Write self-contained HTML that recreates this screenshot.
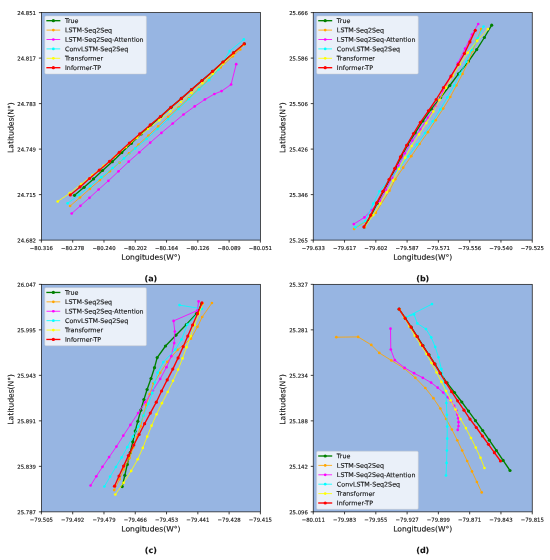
<!DOCTYPE html>
<html lang="en"><head><meta charset="utf-8"><title>Trajectory prediction comparison</title>
<style>html,body{margin:0;padding:0;background:#fff}svg{display:block;filter:blur(0.4px)}text{font-family:"DejaVu Sans","Liberation Sans",sans-serif;fill:#111;stroke:#111;stroke-width:0.12px}</style></head><body>
<svg width="550" height="560" viewBox="0 0 550 560">
<rect width="550" height="560" fill="#ffffff"/>
<g>
<rect x="41.40" y="12.60" width="219.00" height="227.50" fill="#97b5e2"/>
<polyline points="74.5,195.3 84.1,187.3 93.5,178.9 102.5,170.5 112.3,161.7 121.8,152.6 131.4,143.3 141.1,134.0 151.1,125.0 160.9,116.5 171.1,107.3 181.4,98.4 191.6,89.6 202.1,80.6 212.6,71.4 223.1,62.0 233.6,52.9 244.4,43.8" fill="none" stroke="#008000" stroke-width="1.35" stroke-linejoin="round"/>
<g fill="#008000"><circle cx="74.5" cy="195.3" r="1.6"/><circle cx="84.1" cy="187.3" r="1.6"/><circle cx="93.5" cy="178.9" r="1.6"/><circle cx="102.5" cy="170.5" r="1.6"/><circle cx="112.3" cy="161.7" r="1.6"/><circle cx="121.8" cy="152.6" r="1.6"/><circle cx="131.4" cy="143.3" r="1.6"/><circle cx="141.1" cy="134.0" r="1.6"/><circle cx="151.1" cy="125.0" r="1.6"/><circle cx="160.9" cy="116.5" r="1.6"/><circle cx="171.1" cy="107.3" r="1.6"/><circle cx="181.4" cy="98.4" r="1.6"/><circle cx="191.6" cy="89.6" r="1.6"/><circle cx="202.1" cy="80.6" r="1.6"/><circle cx="212.6" cy="71.4" r="1.6"/><circle cx="223.1" cy="62.0" r="1.6"/><circle cx="233.6" cy="52.9" r="1.6"/><circle cx="244.4" cy="43.8" r="1.6"/></g>
<polyline points="70.1,206.0 80.0,197.5 89.9,188.8 99.9,180.1 109.8,171.3 119.5,162.6 129.1,153.3 138.5,144.5 148.4,135.5 158.2,126.4 168.1,116.9 178.5,107.5 188.6,98.4 198.9,88.7 209.5,78.4 220.6,67.5 232.7,56.3 240.3,49.4" fill="none" stroke="#ffa500" stroke-width="0.85" stroke-linejoin="round"/>
<g fill="#ffa500"><circle cx="70.1" cy="206.0" r="1.35"/><circle cx="80.0" cy="197.5" r="1.35"/><circle cx="89.9" cy="188.8" r="1.35"/><circle cx="99.9" cy="180.1" r="1.35"/><circle cx="109.8" cy="171.3" r="1.35"/><circle cx="119.5" cy="162.6" r="1.35"/><circle cx="129.1" cy="153.3" r="1.35"/><circle cx="138.5" cy="144.5" r="1.35"/><circle cx="148.4" cy="135.5" r="1.35"/><circle cx="158.2" cy="126.4" r="1.35"/><circle cx="168.1" cy="116.9" r="1.35"/><circle cx="178.5" cy="107.5" r="1.35"/><circle cx="188.6" cy="98.4" r="1.35"/><circle cx="198.9" cy="88.7" r="1.35"/><circle cx="209.5" cy="78.4" r="1.35"/><circle cx="220.6" cy="67.5" r="1.35"/><circle cx="232.7" cy="56.3" r="1.35"/><circle cx="240.3" cy="49.4" r="1.35"/></g>
<polyline points="71.7,213.5 80.4,205.8 89.5,197.8 98.6,189.5 108.4,180.8 118.5,171.3 128.7,161.7 139.3,152.3 150.2,142.7 161.4,132.9 172.7,123.5 183.5,114.5 194.7,106.4 204.9,99.5 214.4,94.0 221.6,91.1 231.1,84.5 236.2,64.2" fill="none" stroke="#ff00ff" stroke-width="0.85" stroke-linejoin="round"/>
<g fill="#ff00ff"><circle cx="71.7" cy="213.5" r="1.35"/><circle cx="80.4" cy="205.8" r="1.35"/><circle cx="89.5" cy="197.8" r="1.35"/><circle cx="98.6" cy="189.5" r="1.35"/><circle cx="108.4" cy="180.8" r="1.35"/><circle cx="118.5" cy="171.3" r="1.35"/><circle cx="128.7" cy="161.7" r="1.35"/><circle cx="139.3" cy="152.3" r="1.35"/><circle cx="150.2" cy="142.7" r="1.35"/><circle cx="161.4" cy="132.9" r="1.35"/><circle cx="172.7" cy="123.5" r="1.35"/><circle cx="183.5" cy="114.5" r="1.35"/><circle cx="194.7" cy="106.4" r="1.35"/><circle cx="204.9" cy="99.5" r="1.35"/><circle cx="214.4" cy="94.0" r="1.35"/><circle cx="221.6" cy="91.1" r="1.35"/><circle cx="231.1" cy="84.5" r="1.35"/><circle cx="236.2" cy="64.2" r="1.35"/></g>
<polyline points="67.6,203.3 79.0,194.9 90.2,186.2 101.4,177.2 112.7,168.0 124.0,158.4 135.2,148.6 146.5,139.0 157.5,129.0 168.1,119.1 178.5,108.9 188.9,99.1 199.1,89.3 209.0,80.2 218.5,69.5 229.7,51.1 243.8,39.4" fill="none" stroke="#00ffff" stroke-width="0.85" stroke-linejoin="round"/>
<g fill="#00ffff"><circle cx="67.6" cy="203.3" r="1.35"/><circle cx="79.0" cy="194.9" r="1.35"/><circle cx="90.2" cy="186.2" r="1.35"/><circle cx="101.4" cy="177.2" r="1.35"/><circle cx="112.7" cy="168.0" r="1.35"/><circle cx="124.0" cy="158.4" r="1.35"/><circle cx="135.2" cy="148.6" r="1.35"/><circle cx="146.5" cy="139.0" r="1.35"/><circle cx="157.5" cy="129.0" r="1.35"/><circle cx="168.1" cy="119.1" r="1.35"/><circle cx="178.5" cy="108.9" r="1.35"/><circle cx="188.9" cy="99.1" r="1.35"/><circle cx="199.1" cy="89.3" r="1.35"/><circle cx="209.0" cy="80.2" r="1.35"/><circle cx="218.5" cy="69.5" r="1.35"/><circle cx="229.7" cy="51.1" r="1.35"/><circle cx="243.8" cy="39.4" r="1.35"/></g>
<polyline points="57.7,201.5 69.8,193.2 81.2,184.0 92.5,175.0 103.7,165.8 114.9,156.5 126.0,147.1 137.1,137.7 148.0,129.0 159.3,120.3 170.3,111.5 180.9,102.0 191.5,92.8 202.3,83.1 212.8,73.6 223.2,63.6 233.5,54.2 243.6,45.0" fill="none" stroke="#ffff00" stroke-width="0.85" stroke-linejoin="round"/>
<g fill="#ffff00"><circle cx="57.7" cy="201.5" r="1.35"/><circle cx="69.8" cy="193.2" r="1.35"/><circle cx="81.2" cy="184.0" r="1.35"/><circle cx="92.5" cy="175.0" r="1.35"/><circle cx="103.7" cy="165.8" r="1.35"/><circle cx="114.9" cy="156.5" r="1.35"/><circle cx="126.0" cy="147.1" r="1.35"/><circle cx="137.1" cy="137.7" r="1.35"/><circle cx="148.0" cy="129.0" r="1.35"/><circle cx="159.3" cy="120.3" r="1.35"/><circle cx="170.3" cy="111.5" r="1.35"/><circle cx="180.9" cy="102.0" r="1.35"/><circle cx="191.5" cy="92.8" r="1.35"/><circle cx="202.3" cy="83.1" r="1.35"/><circle cx="212.8" cy="73.6" r="1.35"/><circle cx="223.2" cy="63.6" r="1.35"/><circle cx="233.5" cy="54.2" r="1.35"/><circle cx="243.6" cy="45.0" r="1.35"/></g>
<polyline points="70.3,194.9 80.0,186.9 89.5,178.5 99.3,170.2 109.5,161.4 119.3,152.3 129.4,143.1 139.7,133.9 150.2,124.9 160.4,116.5 170.8,107.3 181.3,98.4 191.5,89.6 202.0,80.6 212.5,71.4 223.0,62.0 233.5,52.9 244.3,43.8" fill="none" stroke="#ff0000" stroke-width="1.35" stroke-linejoin="round"/>
<g fill="#ff0000"><circle cx="70.3" cy="194.9" r="1.6"/><circle cx="80.0" cy="186.9" r="1.6"/><circle cx="89.5" cy="178.5" r="1.6"/><circle cx="99.3" cy="170.2" r="1.6"/><circle cx="109.5" cy="161.4" r="1.6"/><circle cx="119.3" cy="152.3" r="1.6"/><circle cx="129.4" cy="143.1" r="1.6"/><circle cx="139.7" cy="133.9" r="1.6"/><circle cx="150.2" cy="124.9" r="1.6"/><circle cx="160.4" cy="116.5" r="1.6"/><circle cx="170.8" cy="107.3" r="1.6"/><circle cx="181.3" cy="98.4" r="1.6"/><circle cx="191.5" cy="89.6" r="1.6"/><circle cx="202.0" cy="80.6" r="1.6"/><circle cx="212.5" cy="71.4" r="1.6"/><circle cx="223.0" cy="62.0" r="1.6"/><circle cx="233.5" cy="52.9" r="1.6"/><circle cx="244.3" cy="43.8" r="1.6"/></g>
<rect x="44.80" y="15.90" width="101.6" height="58.1" rx="1.2" fill="#ffffff" fill-opacity="0.8" stroke="#cccccc" stroke-opacity="0.8" stroke-width="0.6"/>
<line x1="47.00" y1="20.70" x2="59.70" y2="20.70" stroke="#008000" stroke-width="1.35" stroke-linecap="square"/><circle cx="53.35" cy="20.70" r="1.6" fill="#008000"/>
<text x="65.00" y="22.95" font-size="6.35" transform="rotate(0.1 65.00 22.95)">True</text>
<line x1="47.00" y1="30.10" x2="59.70" y2="30.10" stroke="#ffa500" stroke-width="0.85" stroke-linecap="square"/><circle cx="53.35" cy="30.10" r="1.35" fill="#ffa500"/>
<text x="65.00" y="32.35" font-size="6.35" transform="rotate(0.1 65.00 32.35)">LSTM-Seq2Seq</text>
<line x1="47.00" y1="39.50" x2="59.70" y2="39.50" stroke="#ff00ff" stroke-width="0.85" stroke-linecap="square"/><circle cx="53.35" cy="39.50" r="1.35" fill="#ff00ff"/>
<text x="65.00" y="41.75" font-size="6.35" transform="rotate(0.1 65.00 41.75)">LSTM-Seq2Seq-Attention</text>
<line x1="47.00" y1="48.90" x2="59.70" y2="48.90" stroke="#00ffff" stroke-width="0.85" stroke-linecap="square"/><circle cx="53.35" cy="48.90" r="1.35" fill="#00ffff"/>
<text x="65.00" y="51.15" font-size="6.35" transform="rotate(0.1 65.00 51.15)">ConvLSTM-Seq2Seq</text>
<line x1="47.00" y1="58.30" x2="59.70" y2="58.30" stroke="#ffff00" stroke-width="0.85" stroke-linecap="square"/><circle cx="53.35" cy="58.30" r="1.35" fill="#ffff00"/>
<text x="65.00" y="60.55" font-size="6.35" transform="rotate(0.1 65.00 60.55)">Transformer</text>
<line x1="47.00" y1="67.70" x2="59.70" y2="67.70" stroke="#ff0000" stroke-width="1.35" stroke-linecap="square"/><circle cx="53.35" cy="67.70" r="1.6" fill="#ff0000"/>
<text x="65.00" y="69.95" font-size="6.35" transform="rotate(0.1 65.00 69.95)">Informer-TP</text>
<rect x="41.40" y="12.60" width="219.00" height="227.50" fill="none" stroke="#1a1a1a" stroke-width="0.75"/>
<path d="M41.40,240.10v2.5M72.69,240.10v2.5M103.97,240.10v2.5M135.26,240.10v2.5M166.54,240.10v2.5M197.83,240.10v2.5M229.11,240.10v2.5M260.40,240.10v2.5M41.40,12.60h-2.5M41.40,58.10h-2.5M41.40,103.60h-2.5M41.40,149.10h-2.5M41.40,194.60h-2.5M41.40,240.10h-2.5" stroke="#111111" stroke-width="0.8" fill="none"/>
<text x="41.40" y="250.00" font-size="5.35" text-anchor="middle" transform="rotate(0.1 41.40 250.00)">−80.316</text>
<text x="72.69" y="250.00" font-size="5.35" text-anchor="middle" transform="rotate(0.1 72.69 250.00)">−80.278</text>
<text x="103.97" y="250.00" font-size="5.35" text-anchor="middle" transform="rotate(0.1 103.97 250.00)">−80.240</text>
<text x="135.26" y="250.00" font-size="5.35" text-anchor="middle" transform="rotate(0.1 135.26 250.00)">−80.202</text>
<text x="166.54" y="250.00" font-size="5.35" text-anchor="middle" transform="rotate(0.1 166.54 250.00)">−80.164</text>
<text x="197.83" y="250.00" font-size="5.35" text-anchor="middle" transform="rotate(0.1 197.83 250.00)">−80.126</text>
<text x="229.11" y="250.00" font-size="5.35" text-anchor="middle" transform="rotate(0.1 229.11 250.00)">−80.089</text>
<text x="260.40" y="250.00" font-size="5.35" text-anchor="middle" transform="rotate(0.1 260.40 250.00)">−80.051</text>
<text x="36.00" y="15.00" font-size="5.35" text-anchor="end" transform="rotate(0.1 36.00 15.00)">24.851</text>
<text x="36.00" y="60.50" font-size="5.35" text-anchor="end" transform="rotate(0.1 36.00 60.50)">24.817</text>
<text x="36.00" y="106.00" font-size="5.35" text-anchor="end" transform="rotate(0.1 36.00 106.00)">24.783</text>
<text x="36.00" y="151.50" font-size="5.35" text-anchor="end" transform="rotate(0.1 36.00 151.50)">24.749</text>
<text x="36.00" y="197.00" font-size="5.35" text-anchor="end" transform="rotate(0.1 36.00 197.00)">24.715</text>
<text x="36.00" y="242.50" font-size="5.35" text-anchor="end" transform="rotate(0.1 36.00 242.50)">24.682</text>
<text x="150.90" y="259.80" font-size="7.62" text-anchor="middle" transform="rotate(0.1 150.90 259.80)">Longitudes(W°)</text>
<text transform="translate(13.40,127.55) rotate(-89.9)" font-size="7.62" text-anchor="middle">Latitudes(N°)</text>
<text x="150.90" y="281.30" font-size="8.0" font-weight="bold" text-anchor="middle" transform="rotate(0.1 150.90 281.30)">(a)</text>
</g>
<g>
<rect x="313.25" y="12.60" width="219.00" height="227.50" fill="#97b5e2"/>
<polyline points="364.3,227.0 371.2,215.2 377.2,203.2 383.4,191.5 389.6,179.7 395.5,168.3 401.3,156.8 407.6,145.0 415.2,132.8 422.9,121.0 431.4,108.9 440.6,97.5 449.8,85.5 458.5,73.9 468.4,61.5 476.7,49.6 484.4,37.5 491.7,25.2" fill="none" stroke="#008000" stroke-width="1.35" stroke-linejoin="round"/>
<g fill="#008000"><circle cx="364.3" cy="227.0" r="1.6"/><circle cx="371.2" cy="215.2" r="1.6"/><circle cx="377.2" cy="203.2" r="1.6"/><circle cx="383.4" cy="191.5" r="1.6"/><circle cx="389.6" cy="179.7" r="1.6"/><circle cx="395.5" cy="168.3" r="1.6"/><circle cx="401.3" cy="156.8" r="1.6"/><circle cx="407.6" cy="145.0" r="1.6"/><circle cx="415.2" cy="132.8" r="1.6"/><circle cx="422.9" cy="121.0" r="1.6"/><circle cx="431.4" cy="108.9" r="1.6"/><circle cx="440.6" cy="97.5" r="1.6"/><circle cx="449.8" cy="85.5" r="1.6"/><circle cx="458.5" cy="73.9" r="1.6"/><circle cx="468.4" cy="61.5" r="1.6"/><circle cx="476.7" cy="49.6" r="1.6"/><circle cx="484.4" cy="37.5" r="1.6"/><circle cx="491.7" cy="25.2" r="1.6"/></g>
<polyline points="354.1,228.9 366.0,221.4 375.8,212.7 389.5,190.7 395.3,179.2 403.2,167.7 411.3,156.2 419.6,144.0 427.9,132.2 435.7,120.2 443.2,108.6 450.3,97.0 456.4,85.5 462.5,73.9 468.0,62.3 472.4,51.2 476.8,40.1 481.1,29.1" fill="none" stroke="#ffa500" stroke-width="0.85" stroke-linejoin="round"/>
<g fill="#ffa500"><circle cx="354.1" cy="228.9" r="1.35"/><circle cx="366.0" cy="221.4" r="1.35"/><circle cx="375.8" cy="212.7" r="1.35"/><circle cx="389.5" cy="190.7" r="1.35"/><circle cx="395.3" cy="179.2" r="1.35"/><circle cx="403.2" cy="167.7" r="1.35"/><circle cx="411.3" cy="156.2" r="1.35"/><circle cx="419.6" cy="144.0" r="1.35"/><circle cx="427.9" cy="132.2" r="1.35"/><circle cx="435.7" cy="120.2" r="1.35"/><circle cx="443.2" cy="108.6" r="1.35"/><circle cx="450.3" cy="97.0" r="1.35"/><circle cx="456.4" cy="85.5" r="1.35"/><circle cx="462.5" cy="73.9" r="1.35"/><circle cx="468.0" cy="62.3" r="1.35"/><circle cx="472.4" cy="51.2" r="1.35"/><circle cx="476.8" cy="40.1" r="1.35"/><circle cx="481.1" cy="29.1" r="1.35"/></g>
<polyline points="353.8,224.1 364.4,217.4 371.5,210.0 380.0,200.8 385.8,189.8 392.1,177.6 398.4,165.5 404.7,153.3 412.3,140.5 420.3,129.4 427.9,117.7 435.9,105.9 443.0,91.6 450.6,77.3 457.9,63.0 465.1,48.7 472.0,34.5 478.2,24.0" fill="none" stroke="#ff00ff" stroke-width="0.85" stroke-linejoin="round"/>
<g fill="#ff00ff"><circle cx="353.8" cy="224.1" r="1.35"/><circle cx="364.4" cy="217.4" r="1.35"/><circle cx="371.5" cy="210.0" r="1.35"/><circle cx="380.0" cy="200.8" r="1.35"/><circle cx="385.8" cy="189.8" r="1.35"/><circle cx="392.1" cy="177.6" r="1.35"/><circle cx="398.4" cy="165.5" r="1.35"/><circle cx="404.7" cy="153.3" r="1.35"/><circle cx="412.3" cy="140.5" r="1.35"/><circle cx="420.3" cy="129.4" r="1.35"/><circle cx="427.9" cy="117.7" r="1.35"/><circle cx="435.9" cy="105.9" r="1.35"/><circle cx="443.0" cy="91.6" r="1.35"/><circle cx="450.6" cy="77.3" r="1.35"/><circle cx="457.9" cy="63.0" r="1.35"/><circle cx="465.1" cy="48.7" r="1.35"/><circle cx="472.0" cy="34.5" r="1.35"/><circle cx="478.2" cy="24.0" r="1.35"/></g>
<polyline points="355.2,227.3 365.5,221.0 373.3,203.7 379.5,191.3 389.0,179.8 398.9,168.5 408.0,156.5 417.1,144.5 425.0,133.1 432.8,121.3 440.3,109.4 447.3,97.3 454.2,85.5 460.0,73.9 466.3,61.8 471.6,50.2 477.7,38.3 483.6,26.6" fill="none" stroke="#00ffff" stroke-width="0.85" stroke-linejoin="round"/>
<g fill="#00ffff"><circle cx="355.2" cy="227.3" r="1.35"/><circle cx="365.5" cy="221.0" r="1.35"/><circle cx="373.3" cy="203.7" r="1.35"/><circle cx="379.5" cy="191.3" r="1.35"/><circle cx="389.0" cy="179.8" r="1.35"/><circle cx="398.9" cy="168.5" r="1.35"/><circle cx="408.0" cy="156.5" r="1.35"/><circle cx="417.1" cy="144.5" r="1.35"/><circle cx="425.0" cy="133.1" r="1.35"/><circle cx="432.8" cy="121.3" r="1.35"/><circle cx="440.3" cy="109.4" r="1.35"/><circle cx="447.3" cy="97.3" r="1.35"/><circle cx="454.2" cy="85.5" r="1.35"/><circle cx="460.0" cy="73.9" r="1.35"/><circle cx="466.3" cy="61.8" r="1.35"/><circle cx="471.6" cy="50.2" r="1.35"/><circle cx="477.7" cy="38.3" r="1.35"/><circle cx="483.6" cy="26.6" r="1.35"/></g>
<polyline points="364.8,227.0 373.4,215.1 380.2,203.6 386.7,192.4 393.1,180.7 398.9,169.0 405.2,157.6 411.7,146.0 419.0,134.4 426.3,123.1 433.3,111.5 439.5,100.0 445.9,87.7 452.5,76.0 459.8,64.5 467.7,52.8 477.2,40.9 487.9,29.1" fill="none" stroke="#ffff00" stroke-width="0.85" stroke-linejoin="round"/>
<g fill="#ffff00"><circle cx="364.8" cy="227.0" r="1.35"/><circle cx="373.4" cy="215.1" r="1.35"/><circle cx="380.2" cy="203.6" r="1.35"/><circle cx="386.7" cy="192.4" r="1.35"/><circle cx="393.1" cy="180.7" r="1.35"/><circle cx="398.9" cy="169.0" r="1.35"/><circle cx="405.2" cy="157.6" r="1.35"/><circle cx="411.7" cy="146.0" r="1.35"/><circle cx="419.0" cy="134.4" r="1.35"/><circle cx="426.3" cy="123.1" r="1.35"/><circle cx="433.3" cy="111.5" r="1.35"/><circle cx="439.5" cy="100.0" r="1.35"/><circle cx="445.9" cy="87.7" r="1.35"/><circle cx="452.5" cy="76.0" r="1.35"/><circle cx="459.8" cy="64.5" r="1.35"/><circle cx="467.7" cy="52.8" r="1.35"/><circle cx="477.2" cy="40.9" r="1.35"/><circle cx="487.9" cy="29.1" r="1.35"/></g>
<polyline points="364.0,226.9 370.8,215.0 376.7,202.9 382.9,191.3 389.0,179.6 394.8,168.3 400.4,156.9 406.6,145.3 413.5,133.6 420.4,122.3 428.4,110.8 436.2,99.5 443.5,87.6 451.0,76.1 458.1,64.5 464.4,53.5 469.9,41.9 475.3,30.3" fill="none" stroke="#ff0000" stroke-width="1.35" stroke-linejoin="round"/>
<g fill="#ff0000"><circle cx="364.0" cy="226.9" r="1.6"/><circle cx="370.8" cy="215.0" r="1.6"/><circle cx="376.7" cy="202.9" r="1.6"/><circle cx="382.9" cy="191.3" r="1.6"/><circle cx="389.0" cy="179.6" r="1.6"/><circle cx="394.8" cy="168.3" r="1.6"/><circle cx="400.4" cy="156.9" r="1.6"/><circle cx="406.6" cy="145.3" r="1.6"/><circle cx="413.5" cy="133.6" r="1.6"/><circle cx="420.4" cy="122.3" r="1.6"/><circle cx="428.4" cy="110.8" r="1.6"/><circle cx="436.2" cy="99.5" r="1.6"/><circle cx="443.5" cy="87.6" r="1.6"/><circle cx="451.0" cy="76.1" r="1.6"/><circle cx="458.1" cy="64.5" r="1.6"/><circle cx="464.4" cy="53.5" r="1.6"/><circle cx="469.9" cy="41.9" r="1.6"/><circle cx="475.3" cy="30.3" r="1.6"/></g>
<rect x="316.65" y="15.90" width="101.6" height="58.1" rx="1.2" fill="#ffffff" fill-opacity="0.8" stroke="#cccccc" stroke-opacity="0.8" stroke-width="0.6"/>
<line x1="318.85" y1="20.70" x2="331.55" y2="20.70" stroke="#008000" stroke-width="1.35" stroke-linecap="square"/><circle cx="325.20" cy="20.70" r="1.6" fill="#008000"/>
<text x="336.85" y="22.95" font-size="6.35" transform="rotate(0.1 336.85 22.95)">True</text>
<line x1="318.85" y1="30.10" x2="331.55" y2="30.10" stroke="#ffa500" stroke-width="0.85" stroke-linecap="square"/><circle cx="325.20" cy="30.10" r="1.35" fill="#ffa500"/>
<text x="336.85" y="32.35" font-size="6.35" transform="rotate(0.1 336.85 32.35)">LSTM-Seq2Seq</text>
<line x1="318.85" y1="39.50" x2="331.55" y2="39.50" stroke="#ff00ff" stroke-width="0.85" stroke-linecap="square"/><circle cx="325.20" cy="39.50" r="1.35" fill="#ff00ff"/>
<text x="336.85" y="41.75" font-size="6.35" transform="rotate(0.1 336.85 41.75)">LSTM-Seq2Seq-Attention</text>
<line x1="318.85" y1="48.90" x2="331.55" y2="48.90" stroke="#00ffff" stroke-width="0.85" stroke-linecap="square"/><circle cx="325.20" cy="48.90" r="1.35" fill="#00ffff"/>
<text x="336.85" y="51.15" font-size="6.35" transform="rotate(0.1 336.85 51.15)">ConvLSTM-Seq2Seq</text>
<line x1="318.85" y1="58.30" x2="331.55" y2="58.30" stroke="#ffff00" stroke-width="0.85" stroke-linecap="square"/><circle cx="325.20" cy="58.30" r="1.35" fill="#ffff00"/>
<text x="336.85" y="60.55" font-size="6.35" transform="rotate(0.1 336.85 60.55)">Transformer</text>
<line x1="318.85" y1="67.70" x2="331.55" y2="67.70" stroke="#ff0000" stroke-width="1.35" stroke-linecap="square"/><circle cx="325.20" cy="67.70" r="1.6" fill="#ff0000"/>
<text x="336.85" y="69.95" font-size="6.35" transform="rotate(0.1 336.85 69.95)">Informer-TP</text>
<rect x="313.25" y="12.60" width="219.00" height="227.50" fill="none" stroke="#1a1a1a" stroke-width="0.75"/>
<path d="M313.25,240.10v2.5M344.54,240.10v2.5M375.82,240.10v2.5M407.11,240.10v2.5M438.39,240.10v2.5M469.68,240.10v2.5M500.96,240.10v2.5M532.25,240.10v2.5M313.25,12.60h-2.5M313.25,58.10h-2.5M313.25,103.60h-2.5M313.25,149.10h-2.5M313.25,194.60h-2.5M313.25,240.10h-2.5" stroke="#111111" stroke-width="0.8" fill="none"/>
<text x="313.25" y="250.00" font-size="5.35" text-anchor="middle" transform="rotate(0.1 313.25 250.00)">−79.633</text>
<text x="344.54" y="250.00" font-size="5.35" text-anchor="middle" transform="rotate(0.1 344.54 250.00)">−79.617</text>
<text x="375.82" y="250.00" font-size="5.35" text-anchor="middle" transform="rotate(0.1 375.82 250.00)">−79.602</text>
<text x="407.11" y="250.00" font-size="5.35" text-anchor="middle" transform="rotate(0.1 407.11 250.00)">−79.587</text>
<text x="438.39" y="250.00" font-size="5.35" text-anchor="middle" transform="rotate(0.1 438.39 250.00)">−79.571</text>
<text x="469.68" y="250.00" font-size="5.35" text-anchor="middle" transform="rotate(0.1 469.68 250.00)">−79.556</text>
<text x="500.96" y="250.00" font-size="5.35" text-anchor="middle" transform="rotate(0.1 500.96 250.00)">−79.540</text>
<text x="532.25" y="250.00" font-size="5.35" text-anchor="middle" transform="rotate(0.1 532.25 250.00)">−79.525</text>
<text x="307.85" y="15.00" font-size="5.35" text-anchor="end" transform="rotate(0.1 307.85 15.00)">25.666</text>
<text x="307.85" y="60.50" font-size="5.35" text-anchor="end" transform="rotate(0.1 307.85 60.50)">25.586</text>
<text x="307.85" y="106.00" font-size="5.35" text-anchor="end" transform="rotate(0.1 307.85 106.00)">25.506</text>
<text x="307.85" y="151.50" font-size="5.35" text-anchor="end" transform="rotate(0.1 307.85 151.50)">25.426</text>
<text x="307.85" y="197.00" font-size="5.35" text-anchor="end" transform="rotate(0.1 307.85 197.00)">25.346</text>
<text x="307.85" y="242.50" font-size="5.35" text-anchor="end" transform="rotate(0.1 307.85 242.50)">25.265</text>
<text x="422.75" y="259.80" font-size="7.62" text-anchor="middle" transform="rotate(0.1 422.75 259.80)">Longitudes(W°)</text>
<text transform="translate(285.25,127.55) rotate(-89.9)" font-size="7.62" text-anchor="middle">Latitudes(N°)</text>
<text x="422.75" y="281.30" font-size="8.0" font-weight="bold" text-anchor="middle" transform="rotate(0.1 422.75 281.30)">(b)</text>
</g>
<g>
<rect x="41.40" y="284.35" width="219.00" height="227.50" fill="#97b5e2"/>
<polyline points="201.6,303.8 196.5,313.6 186.4,324.5 175.9,335.2 165.5,346.0 157.2,357.6 154.5,367.7 151.0,378.5 147.1,389.5 143.9,399.6 140.8,410.2 137.8,421.3 135.3,430.9 132.8,441.8 130.2,452.7 127.3,464.4 124.8,475.3 122.2,486.6" fill="none" stroke="#008000" stroke-width="1.35" stroke-linejoin="round"/>
<g fill="#008000"><circle cx="201.6" cy="303.8" r="1.6"/><circle cx="196.5" cy="313.6" r="1.6"/><circle cx="186.4" cy="324.5" r="1.6"/><circle cx="175.9" cy="335.2" r="1.6"/><circle cx="165.5" cy="346.0" r="1.6"/><circle cx="157.2" cy="357.6" r="1.6"/><circle cx="154.5" cy="367.7" r="1.6"/><circle cx="151.0" cy="378.5" r="1.6"/><circle cx="147.1" cy="389.5" r="1.6"/><circle cx="143.9" cy="399.6" r="1.6"/><circle cx="140.8" cy="410.2" r="1.6"/><circle cx="137.8" cy="421.3" r="1.6"/><circle cx="135.3" cy="430.9" r="1.6"/><circle cx="132.8" cy="441.8" r="1.6"/><circle cx="130.2" cy="452.7" r="1.6"/><circle cx="127.3" cy="464.4" r="1.6"/><circle cx="124.8" cy="475.3" r="1.6"/><circle cx="122.2" cy="486.6" r="1.6"/></g>
<polyline points="211.9,303.0 202.2,317.0 197.5,326.8 190.9,338.7 177.5,349.9 167.4,361.8 160.2,372.8 153.6,383.3 149.7,394.2 146.1,405.1 143.2,415.8 140.6,426.3 137.0,437.0 133.2,447.6 129.5,458.1 123.6,469.5 119.6,479.3 114.2,490.1" fill="none" stroke="#ffa500" stroke-width="0.85" stroke-linejoin="round"/>
<g fill="#ffa500"><circle cx="211.9" cy="303.0" r="1.35"/><circle cx="202.2" cy="317.0" r="1.35"/><circle cx="197.5" cy="326.8" r="1.35"/><circle cx="190.9" cy="338.7" r="1.35"/><circle cx="177.5" cy="349.9" r="1.35"/><circle cx="167.4" cy="361.8" r="1.35"/><circle cx="160.2" cy="372.8" r="1.35"/><circle cx="153.6" cy="383.3" r="1.35"/><circle cx="149.7" cy="394.2" r="1.35"/><circle cx="146.1" cy="405.1" r="1.35"/><circle cx="143.2" cy="415.8" r="1.35"/><circle cx="140.6" cy="426.3" r="1.35"/><circle cx="137.0" cy="437.0" r="1.35"/><circle cx="133.2" cy="447.6" r="1.35"/><circle cx="129.5" cy="458.1" r="1.35"/><circle cx="123.6" cy="469.5" r="1.35"/><circle cx="119.6" cy="479.3" r="1.35"/><circle cx="114.2" cy="490.1" r="1.35"/></g>
<polyline points="198.6,301.4 197.4,310.5 173.6,320.9 174.8,331.5 174.2,343.1 171.3,356.2 166.5,367.2 160.2,378.9 152.9,390.5 145.3,402.2 138.1,413.1 130.4,424.9 123.3,435.7 116.4,446.6 109.1,457.1 102.5,466.8 96.3,476.3 90.6,485.5" fill="none" stroke="#ff00ff" stroke-width="0.85" stroke-linejoin="round"/>
<g fill="#ff00ff"><circle cx="198.6" cy="301.4" r="1.35"/><circle cx="197.4" cy="310.5" r="1.35"/><circle cx="173.6" cy="320.9" r="1.35"/><circle cx="174.8" cy="331.5" r="1.35"/><circle cx="174.2" cy="343.1" r="1.35"/><circle cx="171.3" cy="356.2" r="1.35"/><circle cx="166.5" cy="367.2" r="1.35"/><circle cx="160.2" cy="378.9" r="1.35"/><circle cx="152.9" cy="390.5" r="1.35"/><circle cx="145.3" cy="402.2" r="1.35"/><circle cx="138.1" cy="413.1" r="1.35"/><circle cx="130.4" cy="424.9" r="1.35"/><circle cx="123.3" cy="435.7" r="1.35"/><circle cx="116.4" cy="446.6" r="1.35"/><circle cx="109.1" cy="457.1" r="1.35"/><circle cx="102.5" cy="466.8" r="1.35"/><circle cx="96.3" cy="476.3" r="1.35"/><circle cx="90.6" cy="485.5" r="1.35"/></g>
<polyline points="179.5,305.1 201.9,308.8 187.3,324.7 181.5,339.6 175.3,349.6 163.4,362.1 157.6,372.7 154.8,382.5 152.2,393.2 148.3,403.9 143.5,415.6 138.3,426.7 132.8,436.7 127.3,447.2 121.7,457.4 115.9,467.0 110.1,476.7 104.4,486.5" fill="none" stroke="#00ffff" stroke-width="0.85" stroke-linejoin="round"/>
<g fill="#00ffff"><circle cx="179.5" cy="305.1" r="1.35"/><circle cx="201.9" cy="308.8" r="1.35"/><circle cx="187.3" cy="324.7" r="1.35"/><circle cx="181.5" cy="339.6" r="1.35"/><circle cx="175.3" cy="349.6" r="1.35"/><circle cx="163.4" cy="362.1" r="1.35"/><circle cx="157.6" cy="372.7" r="1.35"/><circle cx="154.8" cy="382.5" r="1.35"/><circle cx="152.2" cy="393.2" r="1.35"/><circle cx="148.3" cy="403.9" r="1.35"/><circle cx="143.5" cy="415.6" r="1.35"/><circle cx="138.3" cy="426.7" r="1.35"/><circle cx="132.8" cy="436.7" r="1.35"/><circle cx="127.3" cy="447.2" r="1.35"/><circle cx="121.7" cy="457.4" r="1.35"/><circle cx="115.9" cy="467.0" r="1.35"/><circle cx="110.1" cy="476.7" r="1.35"/><circle cx="104.4" cy="486.5" r="1.35"/></g>
<polyline points="202.6,303.6 199.0,313.6 194.5,325.0 190.6,336.1 186.5,347.2 182.5,358.4 178.1,369.6 173.0,380.8 167.7,392.0 161.9,403.2 156.5,414.3 151.6,425.7 147.2,436.6 142.8,447.9 137.7,459.3 131.2,470.9 123.6,482.8 115.3,494.5" fill="none" stroke="#ffff00" stroke-width="0.85" stroke-linejoin="round"/>
<g fill="#ffff00"><circle cx="202.6" cy="303.6" r="1.35"/><circle cx="199.0" cy="313.6" r="1.35"/><circle cx="194.5" cy="325.0" r="1.35"/><circle cx="190.6" cy="336.1" r="1.35"/><circle cx="186.5" cy="347.2" r="1.35"/><circle cx="182.5" cy="358.4" r="1.35"/><circle cx="178.1" cy="369.6" r="1.35"/><circle cx="173.0" cy="380.8" r="1.35"/><circle cx="167.7" cy="392.0" r="1.35"/><circle cx="161.9" cy="403.2" r="1.35"/><circle cx="156.5" cy="414.3" r="1.35"/><circle cx="151.6" cy="425.7" r="1.35"/><circle cx="147.2" cy="436.6" r="1.35"/><circle cx="142.8" cy="447.9" r="1.35"/><circle cx="137.7" cy="459.3" r="1.35"/><circle cx="131.2" cy="470.9" r="1.35"/><circle cx="123.6" cy="482.8" r="1.35"/><circle cx="115.3" cy="494.5" r="1.35"/></g>
<polyline points="202.0,302.9 197.5,313.7 192.6,325.0 187.8,336.1 183.2,346.7 178.1,357.9 172.8,369.1 167.2,379.9 161.6,391.0 156.3,402.2 150.3,413.1 144.6,423.7 139.1,434.5 133.8,445.0 128.4,455.6 123.6,466.1 119.0,476.0 114.5,486.2" fill="none" stroke="#ff0000" stroke-width="1.35" stroke-linejoin="round"/>
<g fill="#ff0000"><circle cx="202.0" cy="302.9" r="1.6"/><circle cx="197.5" cy="313.7" r="1.6"/><circle cx="192.6" cy="325.0" r="1.6"/><circle cx="187.8" cy="336.1" r="1.6"/><circle cx="183.2" cy="346.7" r="1.6"/><circle cx="178.1" cy="357.9" r="1.6"/><circle cx="172.8" cy="369.1" r="1.6"/><circle cx="167.2" cy="379.9" r="1.6"/><circle cx="161.6" cy="391.0" r="1.6"/><circle cx="156.3" cy="402.2" r="1.6"/><circle cx="150.3" cy="413.1" r="1.6"/><circle cx="144.6" cy="423.7" r="1.6"/><circle cx="139.1" cy="434.5" r="1.6"/><circle cx="133.8" cy="445.0" r="1.6"/><circle cx="128.4" cy="455.6" r="1.6"/><circle cx="123.6" cy="466.1" r="1.6"/><circle cx="119.0" cy="476.0" r="1.6"/><circle cx="114.5" cy="486.2" r="1.6"/></g>
<rect x="44.80" y="287.65" width="101.6" height="58.1" rx="1.2" fill="#ffffff" fill-opacity="0.8" stroke="#cccccc" stroke-opacity="0.8" stroke-width="0.6"/>
<line x1="47.00" y1="292.45" x2="59.70" y2="292.45" stroke="#008000" stroke-width="1.35" stroke-linecap="square"/><circle cx="53.35" cy="292.45" r="1.6" fill="#008000"/>
<text x="65.00" y="294.70" font-size="6.35" transform="rotate(0.1 65.00 294.70)">True</text>
<line x1="47.00" y1="301.85" x2="59.70" y2="301.85" stroke="#ffa500" stroke-width="0.85" stroke-linecap="square"/><circle cx="53.35" cy="301.85" r="1.35" fill="#ffa500"/>
<text x="65.00" y="304.10" font-size="6.35" transform="rotate(0.1 65.00 304.10)">LSTM-Seq2Seq</text>
<line x1="47.00" y1="311.25" x2="59.70" y2="311.25" stroke="#ff00ff" stroke-width="0.85" stroke-linecap="square"/><circle cx="53.35" cy="311.25" r="1.35" fill="#ff00ff"/>
<text x="65.00" y="313.50" font-size="6.35" transform="rotate(0.1 65.00 313.50)">LSTM-Seq2Seq-Attention</text>
<line x1="47.00" y1="320.65" x2="59.70" y2="320.65" stroke="#00ffff" stroke-width="0.85" stroke-linecap="square"/><circle cx="53.35" cy="320.65" r="1.35" fill="#00ffff"/>
<text x="65.00" y="322.90" font-size="6.35" transform="rotate(0.1 65.00 322.90)">ConvLSTM-Seq2Seq</text>
<line x1="47.00" y1="330.05" x2="59.70" y2="330.05" stroke="#ffff00" stroke-width="0.85" stroke-linecap="square"/><circle cx="53.35" cy="330.05" r="1.35" fill="#ffff00"/>
<text x="65.00" y="332.30" font-size="6.35" transform="rotate(0.1 65.00 332.30)">Transformer</text>
<line x1="47.00" y1="339.45" x2="59.70" y2="339.45" stroke="#ff0000" stroke-width="1.35" stroke-linecap="square"/><circle cx="53.35" cy="339.45" r="1.6" fill="#ff0000"/>
<text x="65.00" y="341.70" font-size="6.35" transform="rotate(0.1 65.00 341.70)">Informer-TP</text>
<rect x="41.40" y="284.35" width="219.00" height="227.50" fill="none" stroke="#1a1a1a" stroke-width="0.75"/>
<path d="M41.40,511.85v2.5M72.69,511.85v2.5M103.97,511.85v2.5M135.26,511.85v2.5M166.54,511.85v2.5M197.83,511.85v2.5M229.11,511.85v2.5M260.40,511.85v2.5M41.40,284.35h-2.5M41.40,329.85h-2.5M41.40,375.35h-2.5M41.40,420.85h-2.5M41.40,466.35h-2.5M41.40,511.85h-2.5" stroke="#111111" stroke-width="0.8" fill="none"/>
<text x="41.40" y="521.75" font-size="5.35" text-anchor="middle" transform="rotate(0.1 41.40 521.75)">−79.505</text>
<text x="72.69" y="521.75" font-size="5.35" text-anchor="middle" transform="rotate(0.1 72.69 521.75)">−79.492</text>
<text x="103.97" y="521.75" font-size="5.35" text-anchor="middle" transform="rotate(0.1 103.97 521.75)">−79.479</text>
<text x="135.26" y="521.75" font-size="5.35" text-anchor="middle" transform="rotate(0.1 135.26 521.75)">−79.466</text>
<text x="166.54" y="521.75" font-size="5.35" text-anchor="middle" transform="rotate(0.1 166.54 521.75)">−79.453</text>
<text x="197.83" y="521.75" font-size="5.35" text-anchor="middle" transform="rotate(0.1 197.83 521.75)">−79.441</text>
<text x="229.11" y="521.75" font-size="5.35" text-anchor="middle" transform="rotate(0.1 229.11 521.75)">−79.428</text>
<text x="260.40" y="521.75" font-size="5.35" text-anchor="middle" transform="rotate(0.1 260.40 521.75)">−79.415</text>
<text x="36.00" y="286.75" font-size="5.35" text-anchor="end" transform="rotate(0.1 36.00 286.75)">26.047</text>
<text x="36.00" y="332.25" font-size="5.35" text-anchor="end" transform="rotate(0.1 36.00 332.25)">25.995</text>
<text x="36.00" y="377.75" font-size="5.35" text-anchor="end" transform="rotate(0.1 36.00 377.75)">25.943</text>
<text x="36.00" y="423.25" font-size="5.35" text-anchor="end" transform="rotate(0.1 36.00 423.25)">25.891</text>
<text x="36.00" y="468.75" font-size="5.35" text-anchor="end" transform="rotate(0.1 36.00 468.75)">25.839</text>
<text x="36.00" y="514.25" font-size="5.35" text-anchor="end" transform="rotate(0.1 36.00 514.25)">25.787</text>
<text x="150.90" y="531.55" font-size="7.62" text-anchor="middle" transform="rotate(0.1 150.90 531.55)">Longitudes(W°)</text>
<text transform="translate(13.40,399.30) rotate(-89.9)" font-size="7.62" text-anchor="middle">Latitudes(N°)</text>
<text x="150.90" y="553.05" font-size="8.0" font-weight="bold" text-anchor="middle" transform="rotate(0.1 150.90 553.05)">(c)</text>
</g>
<g>
<rect x="313.25" y="284.35" width="219.00" height="227.50" fill="#97b5e2"/>
<polyline points="399.2,309.2 405.3,318.2 411.2,327.2 417.3,336.5 422.9,345.6 429.0,354.8 435.0,364.0 440.6,373.3 447.0,382.8 454.5,392.5 461.8,402.0 468.5,411.1 475.5,420.7 482.7,430.5 489.3,440.2 496.4,450.5 503.1,460.4 510.0,470.5" fill="none" stroke="#008000" stroke-width="1.35" stroke-linejoin="round"/>
<g fill="#008000"><circle cx="399.2" cy="309.2" r="1.6"/><circle cx="405.3" cy="318.2" r="1.6"/><circle cx="411.2" cy="327.2" r="1.6"/><circle cx="417.3" cy="336.5" r="1.6"/><circle cx="422.9" cy="345.6" r="1.6"/><circle cx="429.0" cy="354.8" r="1.6"/><circle cx="435.0" cy="364.0" r="1.6"/><circle cx="440.6" cy="373.3" r="1.6"/><circle cx="447.0" cy="382.8" r="1.6"/><circle cx="454.5" cy="392.5" r="1.6"/><circle cx="461.8" cy="402.0" r="1.6"/><circle cx="468.5" cy="411.1" r="1.6"/><circle cx="475.5" cy="420.7" r="1.6"/><circle cx="482.7" cy="430.5" r="1.6"/><circle cx="489.3" cy="440.2" r="1.6"/><circle cx="496.4" cy="450.5" r="1.6"/><circle cx="503.1" cy="460.4" r="1.6"/><circle cx="510.0" cy="470.5" r="1.6"/></g>
<polyline points="336.3,337.2 358.1,336.9 371.3,344.9 379.3,352.9 391.3,360.4 404.3,368.5 415.3,377.8 425.3,388.0 433.4,398.2 440.3,408.5 446.1,419.0 451.9,429.5 457.3,440.3 462.2,450.5 467.2,461.0 472.0,471.4 476.9,482.0 481.7,492.4" fill="none" stroke="#ffa500" stroke-width="0.85" stroke-linejoin="round"/>
<g fill="#ffa500"><circle cx="336.3" cy="337.2" r="1.35"/><circle cx="358.1" cy="336.9" r="1.35"/><circle cx="371.3" cy="344.9" r="1.35"/><circle cx="379.3" cy="352.9" r="1.35"/><circle cx="391.3" cy="360.4" r="1.35"/><circle cx="404.3" cy="368.5" r="1.35"/><circle cx="415.3" cy="377.8" r="1.35"/><circle cx="425.3" cy="388.0" r="1.35"/><circle cx="433.4" cy="398.2" r="1.35"/><circle cx="440.3" cy="408.5" r="1.35"/><circle cx="446.1" cy="419.0" r="1.35"/><circle cx="451.9" cy="429.5" r="1.35"/><circle cx="457.3" cy="440.3" r="1.35"/><circle cx="462.2" cy="450.5" r="1.35"/><circle cx="467.2" cy="461.0" r="1.35"/><circle cx="472.0" cy="471.4" r="1.35"/><circle cx="476.9" cy="482.0" r="1.35"/><circle cx="481.7" cy="492.4" r="1.35"/></g>
<polyline points="390.5,328.7 390.8,349.5 394.8,360.2 404.6,367.8 414.1,373.2 422.8,377.8 431.1,382.6 437.7,387.7 443.2,392.5 447.5,397.2 451.2,401.5 454.1,405.9 456.3,410.3 457.4,414.6 458.2,418.3 458.5,422.2 458.5,426.0 457.7,429.9" fill="none" stroke="#ff00ff" stroke-width="0.85" stroke-linejoin="round"/>
<g fill="#ff00ff"><circle cx="390.5" cy="328.7" r="1.35"/><circle cx="390.8" cy="349.5" r="1.35"/><circle cx="394.8" cy="360.2" r="1.35"/><circle cx="404.6" cy="367.8" r="1.35"/><circle cx="414.1" cy="373.2" r="1.35"/><circle cx="422.8" cy="377.8" r="1.35"/><circle cx="431.1" cy="382.6" r="1.35"/><circle cx="437.7" cy="387.7" r="1.35"/><circle cx="443.2" cy="392.5" r="1.35"/><circle cx="447.5" cy="397.2" r="1.35"/><circle cx="451.2" cy="401.5" r="1.35"/><circle cx="454.1" cy="405.9" r="1.35"/><circle cx="456.3" cy="410.3" r="1.35"/><circle cx="457.4" cy="414.6" r="1.35"/><circle cx="458.2" cy="418.3" r="1.35"/><circle cx="458.5" cy="422.2" r="1.35"/><circle cx="458.5" cy="426.0" r="1.35"/><circle cx="457.7" cy="429.9" r="1.35"/></g>
<polyline points="432.0,304.1 405.8,317.3 414.1,314.4 417.3,323.4 426.0,329.1 431.2,337.4 435.2,346.9 438.5,357.3 441.4,369.1 444.0,380.9 445.8,391.4 446.4,403.0 446.9,414.9 447.2,426.6 447.2,438.7 446.9,450.5 446.6,462.9 446.0,475.5" fill="none" stroke="#00ffff" stroke-width="0.85" stroke-linejoin="round"/>
<g fill="#00ffff"><circle cx="432.0" cy="304.1" r="1.35"/><circle cx="405.8" cy="317.3" r="1.35"/><circle cx="414.1" cy="314.4" r="1.35"/><circle cx="417.3" cy="323.4" r="1.35"/><circle cx="426.0" cy="329.1" r="1.35"/><circle cx="431.2" cy="337.4" r="1.35"/><circle cx="435.2" cy="346.9" r="1.35"/><circle cx="438.5" cy="357.3" r="1.35"/><circle cx="441.4" cy="369.1" r="1.35"/><circle cx="444.0" cy="380.9" r="1.35"/><circle cx="445.8" cy="391.4" r="1.35"/><circle cx="446.4" cy="403.0" r="1.35"/><circle cx="446.9" cy="414.9" r="1.35"/><circle cx="447.2" cy="426.6" r="1.35"/><circle cx="447.2" cy="438.7" r="1.35"/><circle cx="446.9" cy="450.5" r="1.35"/><circle cx="446.6" cy="462.9" r="1.35"/><circle cx="446.0" cy="475.5" r="1.35"/></g>
<polyline points="399.5,309.5 404.2,317.5 409.5,326.6 414.8,335.7 420.6,344.7 426.5,353.9 431.5,363.0 436.6,372.5 441.4,381.9 446.1,391.1 450.7,400.4 455.5,409.6 460.5,419.0 465.9,428.1 471.0,438.0 475.8,447.6 480.5,457.8 484.5,468.0" fill="none" stroke="#ffff00" stroke-width="0.85" stroke-linejoin="round"/>
<g fill="#ffff00"><circle cx="399.5" cy="309.5" r="1.35"/><circle cx="404.2" cy="317.5" r="1.35"/><circle cx="409.5" cy="326.6" r="1.35"/><circle cx="414.8" cy="335.7" r="1.35"/><circle cx="420.6" cy="344.7" r="1.35"/><circle cx="426.5" cy="353.9" r="1.35"/><circle cx="431.5" cy="363.0" r="1.35"/><circle cx="436.6" cy="372.5" r="1.35"/><circle cx="441.4" cy="381.9" r="1.35"/><circle cx="446.1" cy="391.1" r="1.35"/><circle cx="450.7" cy="400.4" r="1.35"/><circle cx="455.5" cy="409.6" r="1.35"/><circle cx="460.5" cy="419.0" r="1.35"/><circle cx="465.9" cy="428.1" r="1.35"/><circle cx="471.0" cy="438.0" r="1.35"/><circle cx="475.8" cy="447.6" r="1.35"/><circle cx="480.5" cy="457.8" r="1.35"/><circle cx="484.5" cy="468.0" r="1.35"/></g>
<polyline points="399.1,309.1 405.1,318.1 411.0,327.1 417.0,336.4 422.5,345.5 428.6,354.6 434.5,363.8 440.0,373.0 445.8,382.3 451.6,391.7 457.7,400.8 464.0,410.2 470.0,419.1 476.3,427.5 482.4,436.0 488.5,444.3 494.4,452.7 500.5,461.0" fill="none" stroke="#ff0000" stroke-width="1.35" stroke-linejoin="round"/>
<g fill="#ff0000"><circle cx="399.1" cy="309.1" r="1.6"/><circle cx="405.1" cy="318.1" r="1.6"/><circle cx="411.0" cy="327.1" r="1.6"/><circle cx="417.0" cy="336.4" r="1.6"/><circle cx="422.5" cy="345.5" r="1.6"/><circle cx="428.6" cy="354.6" r="1.6"/><circle cx="434.5" cy="363.8" r="1.6"/><circle cx="440.0" cy="373.0" r="1.6"/><circle cx="445.8" cy="382.3" r="1.6"/><circle cx="451.6" cy="391.7" r="1.6"/><circle cx="457.7" cy="400.8" r="1.6"/><circle cx="464.0" cy="410.2" r="1.6"/><circle cx="470.0" cy="419.1" r="1.6"/><circle cx="476.3" cy="427.5" r="1.6"/><circle cx="482.4" cy="436.0" r="1.6"/><circle cx="488.5" cy="444.3" r="1.6"/><circle cx="494.4" cy="452.7" r="1.6"/><circle cx="500.5" cy="461.0" r="1.6"/></g>
<rect x="316.65" y="451.20" width="101.6" height="58.1" rx="1.2" fill="#ffffff" fill-opacity="0.8" stroke="#cccccc" stroke-opacity="0.8" stroke-width="0.6"/>
<line x1="318.85" y1="456.00" x2="331.55" y2="456.00" stroke="#008000" stroke-width="1.35" stroke-linecap="square"/><circle cx="325.20" cy="456.00" r="1.6" fill="#008000"/>
<text x="336.85" y="458.25" font-size="6.35" transform="rotate(0.1 336.85 458.25)">True</text>
<line x1="318.85" y1="465.40" x2="331.55" y2="465.40" stroke="#ffa500" stroke-width="0.85" stroke-linecap="square"/><circle cx="325.20" cy="465.40" r="1.35" fill="#ffa500"/>
<text x="336.85" y="467.65" font-size="6.35" transform="rotate(0.1 336.85 467.65)">LSTM-Seq2Seq</text>
<line x1="318.85" y1="474.80" x2="331.55" y2="474.80" stroke="#ff00ff" stroke-width="0.85" stroke-linecap="square"/><circle cx="325.20" cy="474.80" r="1.35" fill="#ff00ff"/>
<text x="336.85" y="477.05" font-size="6.35" transform="rotate(0.1 336.85 477.05)">LSTM-Seq2Seq-Attention</text>
<line x1="318.85" y1="484.20" x2="331.55" y2="484.20" stroke="#00ffff" stroke-width="0.85" stroke-linecap="square"/><circle cx="325.20" cy="484.20" r="1.35" fill="#00ffff"/>
<text x="336.85" y="486.45" font-size="6.35" transform="rotate(0.1 336.85 486.45)">ConvLSTM-Seq2Seq</text>
<line x1="318.85" y1="493.60" x2="331.55" y2="493.60" stroke="#ffff00" stroke-width="0.85" stroke-linecap="square"/><circle cx="325.20" cy="493.60" r="1.35" fill="#ffff00"/>
<text x="336.85" y="495.85" font-size="6.35" transform="rotate(0.1 336.85 495.85)">Transformer</text>
<line x1="318.85" y1="503.00" x2="331.55" y2="503.00" stroke="#ff0000" stroke-width="1.35" stroke-linecap="square"/><circle cx="325.20" cy="503.00" r="1.6" fill="#ff0000"/>
<text x="336.85" y="505.25" font-size="6.35" transform="rotate(0.1 336.85 505.25)">Informer-TP</text>
<rect x="313.25" y="284.35" width="219.00" height="227.50" fill="none" stroke="#1a1a1a" stroke-width="0.75"/>
<path d="M313.25,511.85v2.5M344.54,511.85v2.5M375.82,511.85v2.5M407.11,511.85v2.5M438.39,511.85v2.5M469.68,511.85v2.5M500.96,511.85v2.5M532.25,511.85v2.5M313.25,284.35h-2.5M313.25,329.85h-2.5M313.25,375.35h-2.5M313.25,420.85h-2.5M313.25,466.35h-2.5M313.25,511.85h-2.5" stroke="#111111" stroke-width="0.8" fill="none"/>
<text x="313.25" y="521.75" font-size="5.35" text-anchor="middle" transform="rotate(0.1 313.25 521.75)">−80.011</text>
<text x="344.54" y="521.75" font-size="5.35" text-anchor="middle" transform="rotate(0.1 344.54 521.75)">−79.983</text>
<text x="375.82" y="521.75" font-size="5.35" text-anchor="middle" transform="rotate(0.1 375.82 521.75)">−79.955</text>
<text x="407.11" y="521.75" font-size="5.35" text-anchor="middle" transform="rotate(0.1 407.11 521.75)">−79.927</text>
<text x="438.39" y="521.75" font-size="5.35" text-anchor="middle" transform="rotate(0.1 438.39 521.75)">−79.899</text>
<text x="469.68" y="521.75" font-size="5.35" text-anchor="middle" transform="rotate(0.1 469.68 521.75)">−79.871</text>
<text x="500.96" y="521.75" font-size="5.35" text-anchor="middle" transform="rotate(0.1 500.96 521.75)">−79.843</text>
<text x="532.25" y="521.75" font-size="5.35" text-anchor="middle" transform="rotate(0.1 532.25 521.75)">−79.815</text>
<text x="307.85" y="286.75" font-size="5.35" text-anchor="end" transform="rotate(0.1 307.85 286.75)">25.327</text>
<text x="307.85" y="332.25" font-size="5.35" text-anchor="end" transform="rotate(0.1 307.85 332.25)">25.281</text>
<text x="307.85" y="377.75" font-size="5.35" text-anchor="end" transform="rotate(0.1 307.85 377.75)">25.234</text>
<text x="307.85" y="423.25" font-size="5.35" text-anchor="end" transform="rotate(0.1 307.85 423.25)">25.188</text>
<text x="307.85" y="468.75" font-size="5.35" text-anchor="end" transform="rotate(0.1 307.85 468.75)">25.142</text>
<text x="307.85" y="514.25" font-size="5.35" text-anchor="end" transform="rotate(0.1 307.85 514.25)">25.096</text>
<text x="422.75" y="531.55" font-size="7.62" text-anchor="middle" transform="rotate(0.1 422.75 531.55)">Longitudes(W°)</text>
<text transform="translate(285.25,399.30) rotate(-89.9)" font-size="7.62" text-anchor="middle">Latitudes(N°)</text>
<text x="422.75" y="553.05" font-size="8.0" font-weight="bold" text-anchor="middle" transform="rotate(0.1 422.75 553.05)">(d)</text>
</g>
</svg></body></html>
